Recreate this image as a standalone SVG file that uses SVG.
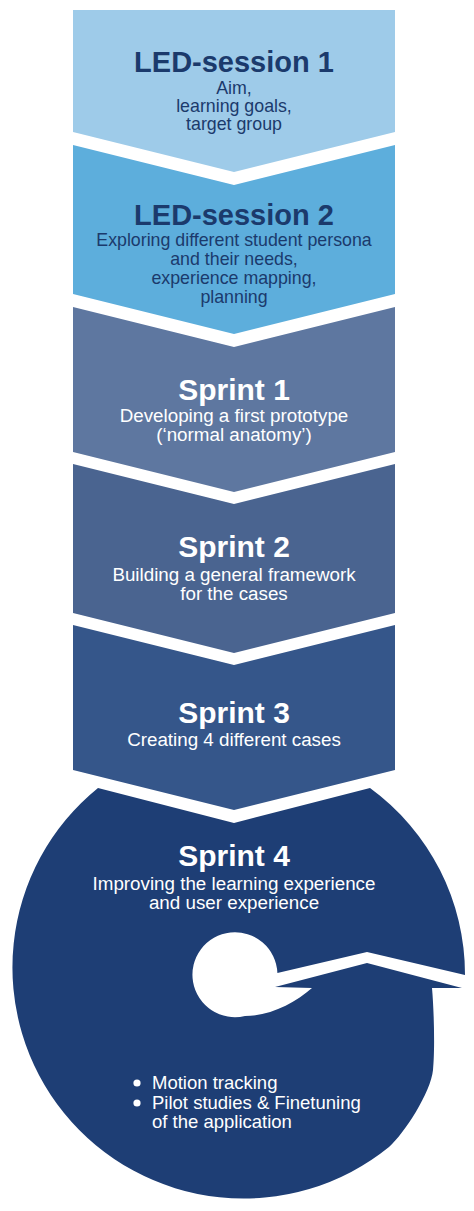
<svg xmlns="http://www.w3.org/2000/svg" width="474" height="1211" viewBox="0 0 474 1211">
<style>
.t{font-family:"Liberation Sans",Arial,sans-serif;text-anchor:middle}
.l{font-family:"Liberation Sans",Arial,sans-serif;text-anchor:start;font-size:18.5px;fill:#fff}
.h{font-weight:bold;font-size:29px}
.hs{font-weight:bold;font-size:30px}
.s{font-size:17.8px}
.ss{font-size:18.8px}
.navy{fill:#1b3a6c}
.w{fill:#fff}
</style>
<rect width="474" height="1211" fill="#fff"/>
<g id="led1">
<polygon points="73,10 395,10 395,132 234,172 73,132" fill="#9ecbe9"/>
<text class="t h navy" x="234" y="72">LED-session 1</text>
<text class="t s navy" x="234" y="94">Aim,</text>
<text class="t s navy" x="234" y="112">learning goals,</text>
<text class="t s navy" x="234" y="130">target group</text>
</g>
<g id="led2">
<polygon points="73,145 234,185 395,145 395,294 234,334 73,294" fill="#5daedc"/>
<text class="t h navy" x="234" y="225">LED-session 2</text>
<text class="t s navy" x="234" y="246">Exploring different student persona</text>
<text class="t s navy" x="234" y="265">and their needs,</text>
<text class="t s navy" x="234" y="284">experience mapping,</text>
<text class="t s navy" x="234" y="303">planning</text>
</g>
<g id="sprint1">
<polygon points="73,307 234,347 395,307 395,452 234,492 73,452" fill="#5e77a0"/>
<text class="t hs w" x="234" y="400">Sprint 1</text>
<text class="t ss w" x="234" y="422">Developing a first prototype</text>
<text class="t ss w" x="234" y="441">(‘normal anatomy’)</text>
</g>
<g id="sprint2">
<polygon points="73,464 234,504 395,464 395,613 234,653 73,613" fill="#4a6490"/>
<text class="t hs w" x="234" y="557">Sprint 2</text>
<text class="t ss w" x="234" y="581">Building a general framework</text>
<text class="t ss w" x="234" y="600">for the cases</text>
</g>
<g id="sprint3">
<polygon points="73,625 234,665 395,625 395,770 234,810 73,770" fill="#35568a"/>
<text class="t hs w" x="234" y="723">Sprint 3</text>
<text class="t ss w" x="234" y="746">Creating 4 different cases</text>
</g>
<g id="sprint4">
<path d="M465,975 A231 231 0 0 0 370,788 L234,823 L98,788 A231 231 0 1 0 389,1147 C404,1134 431,1092 433,1070 C435,1050 434,1010 432,988 L462,988 L367,963 L275,987 L312,988 C295,1003 270,1016 245,1016 A42.5 42.5 0 1 1 277.4,973 L367,952 Z" fill="#1e3e75"/>
<text class="t hs w" x="234" y="866">Sprint 4</text>
<text class="t ss w" x="234" y="890">Improving the learning experience</text>
<text class="t ss w" x="234" y="909">and user experience</text>
<circle cx="137" cy="1083" r="3.6" fill="#fff"/>
<circle cx="137" cy="1103" r="3.6" fill="#fff"/>
<text class="l" x="152" y="1089">Motion tracking</text>
<text class="l" x="152" y="1109">Pilot studies &amp; Finetuning</text>
<text class="l" x="152" y="1128">of the application</text>
</g>
<g id="connectors"/>
</svg>
